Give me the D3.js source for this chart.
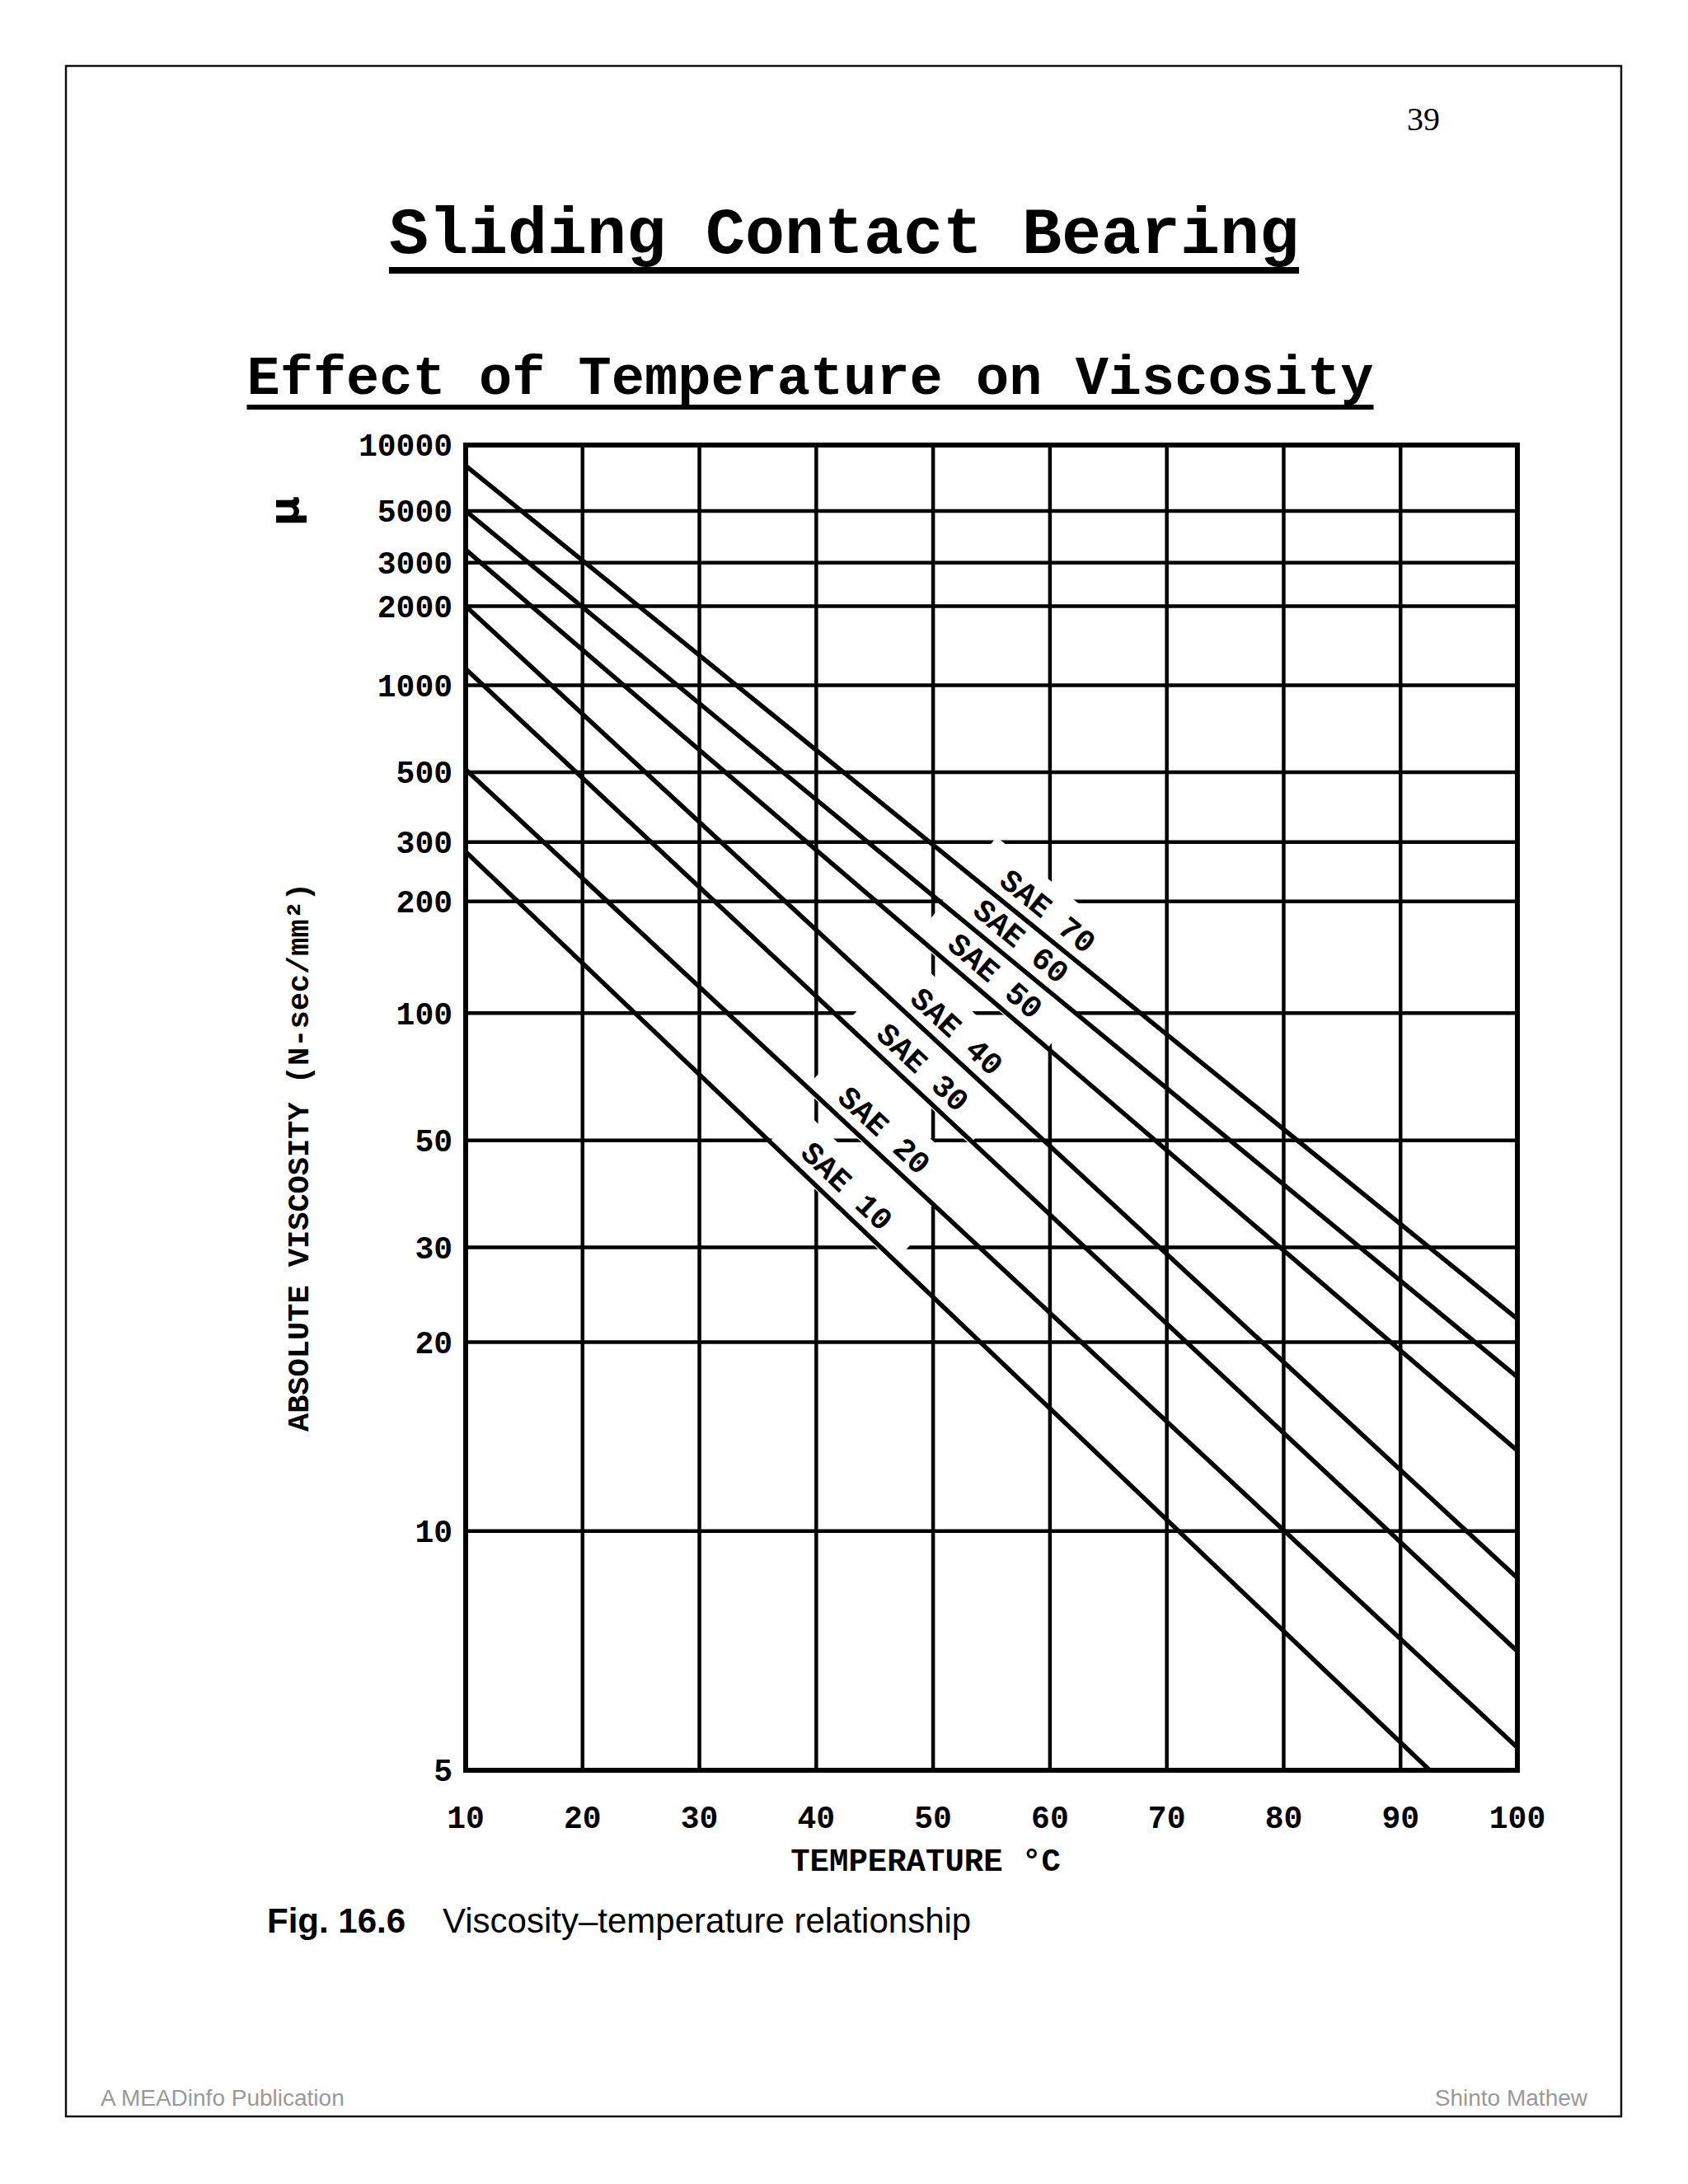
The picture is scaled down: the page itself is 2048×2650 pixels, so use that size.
<!DOCTYPE html>
<html><head><meta charset="utf-8">
<script src="https://cdn.jsdelivr.net/npm/d3@7"></script>
<style>body{margin:0;background:#fff} svg{display:block}</style>
</head><body>
<script>
// ---------------- data ----------------
const temperatureTicks = [10, 20, 30, 40, 50, 60, 70, 80, 90, 100];
const viscosityTicks = [10000, 5000, 3000, 2000, 1000, 500, 300, 200, 100, 50, 30, 20, 10, 5];
const grades    = ["SAE 70", "SAE 60", "SAE 50", "SAE 40", "SAE 30", "SAE 20", "SAE 10"];
const startTemp = [10, 10, 10, 10, 10, 10, 10];
const startVisc = [8000, 5000, 3400, 2000, 1150, 510, 280];
const endTemp   = [100, 100, 100, 100, 100, 100, 92.5];
const endVisc   = [22, 17.4, 13.2, 8.6, 6.9, 5.3, 5];
const labelTemp = [59.9, 57.6, 55.4, 52.1, 49.2, 45.9, 42.7];

// ---------------- page ----------------
const W = 2048, H = 2650;
const svg = d3.select("body").append("svg").attr("width", W).attr("height", H);
svg.append("rect").attr("width", W).attr("height", H).attr("fill", "#fff");
svg.append("rect").attr("x", 80).attr("y", 80).attr("width", 1887).attr("height", 2488)
  .attr("fill", "none").attr("stroke", "#111").attr("stroke-width", 2.5);

svg.append("text").attr("x", 1727).attr("y", 158).attr("text-anchor", "middle")
  .attr("font-family", "Liberation Serif").attr("font-size", 40).text("39");

function underlined(txt, cx, baseline, size, uy, uh) {
  const t = svg.append("text").attr("x", cx).attr("y", baseline).attr("text-anchor", "middle")
    .attr("font-family", "Liberation Mono").attr("font-weight", "bold").attr("font-size", size).text(txt);
  const bb = t.node().getBBox();
  svg.append("rect").attr("x", bb.x).attr("y", uy).attr("width", bb.width).attr("height", uh).attr("fill", "#000");
}
underlined("Sliding Contact Bearing", 1024, 307, 80, 324, 8);
underlined("Effect of Temperature on Viscosity", 983, 478, 67, 491, 6);

// ---------------- scales ----------------
const x = d3.scaleLinear().domain([10, 100]).range([565, 1841]);
const yT = v => Math.log(Math.log10(v) + 0.3);           // chart's viscosity scale
const yLin = d3.scaleLinear().domain([yT(5), yT(10000)]).range([2148, 540]);
const y = v => yLin(yT(v));

const g = svg.append("g");
const yTop = y(d3.max(viscosityTicks)), yBot = y(d3.min(viscosityTicks));
const xL = x(d3.min(temperatureTicks)), xR = x(d3.max(temperatureTicks));

// grid
g.selectAll(".vg").data(temperatureTicks).join("line")
  .attr("x1", d => x(d)).attr("x2", d => x(d)).attr("y1", yTop).attr("y2", yBot)
  .attr("stroke", "#000").attr("stroke-width", 4.5);
g.selectAll(".hg").data(viscosityTicks).join("line")
  .attr("x1", xL).attr("x2", xR).attr("y1", d => y(d)).attr("y2", d => y(d))
  .attr("stroke", "#000").attr("stroke-width", 4.5);

// line geometry
const OFF = 27; // label centre distance from its line
const lines = grades.map((name, i) => {
  const p0 = [x(startTemp[i]), y(startVisc[i])];
  const p1 = [x(endTemp[i]), y(endVisc[i])];
  const a = Math.atan2(p1[1] - p0[1], p1[0] - p0[0]);
  const ax = x(labelTemp[i]) - OFF * Math.sin(a);
  const u = (ax - p0[0]) / (p1[0] - p0[0]);
  const lp = [p0[0] + u * (p1[0] - p0[0]), p0[1] + u * (p1[1] - p0[1])];
  return {name, p0, p1, lp, ang: a * 180 / Math.PI};
});

// white clearing behind labels
g.selectAll(".clr").data(lines).join("rect")
  .attr("transform", d => `translate(${d.lp[0]},${d.lp[1]}) rotate(${d.ang})`)
  .attr("x", -105).attr("y", -56).attr("width", 210).attr("height", 60).attr("fill", "#fff");

g.append("rect").attr("x", xL).attr("y", yTop).attr("width", xR - xL).attr("height", yBot - yTop)
  .attr("fill", "none").attr("stroke", "#000").attr("stroke-width", 6);

// SAE lines
g.selectAll(".sae").data(lines).join("line")
  .attr("x1", d => d.p0[0]).attr("y1", d => d.p0[1]).attr("x2", d => d.p1[0]).attr("y2", d => d.p1[1])
  .attr("stroke", "#000").attr("stroke-width", 5.5);

// labels
g.selectAll(".lab").data(lines).join("text")
  .attr("transform", d => `translate(${d.lp[0]},${d.lp[1]}) rotate(${d.ang})`)
  .attr("x", 0).attr("y", -13).attr("text-anchor", "middle")
  .attr("font-family", "Liberation Mono").attr("font-weight", "bold").attr("font-size", 38)
  .text(d => d.name);

// tick labels
g.selectAll(".xt").data(temperatureTicks).join("text")
  .attr("x", d => x(d)).attr("y", 2218).attr("text-anchor", "middle")
  .attr("font-family", "Liberation Mono").attr("font-weight", "bold").attr("font-size", 38)
  .text(d => d);
g.selectAll(".yt").data(viscosityTicks).join("text")
  .attr("x", xL - 16).attr("y", d => y(d)).attr("dy", "0.35em").attr("text-anchor", "end")
  .attr("font-family", "Liberation Mono").attr("font-weight", "bold").attr("font-size", 38)
  .text(d => d);

// axis titles
svg.append("text").attr("x", 1123).attr("y", 2270).attr("text-anchor", "middle")
  .attr("font-family", "Liberation Mono").attr("font-weight", "bold").attr("font-size", 39)
  .text("TEMPERATURE °C");
svg.append("text").attr("transform", "translate(374,1404) rotate(-90)").attr("text-anchor", "middle")
  .attr("font-family", "Liberation Mono").attr("font-weight", "bold").attr("font-size", 37)
  .text("ABSOLUTE VISCOSITY (N-sec/mm²)");
svg.append("text").attr("transform", "translate(362,620) rotate(-90)").attr("text-anchor", "middle")
  .attr("font-family", "DejaVu Sans").attr("font-weight", "bold").attr("font-size", 50)
  .text("μ");

// caption
svg.append("text").attr("x", 324).attr("y", 2345)
  .attr("font-family", "Liberation Sans").attr("font-weight", "bold").attr("font-size", 42)
  .text("Fig. 16.6");
svg.append("text").attr("x", 537).attr("y", 2345)
  .attr("font-family", "Liberation Sans").attr("font-size", 42)
  .text("Viscosity–temperature relationship");

// footer
svg.append("text").attr("x", 122).attr("y", 2555)
  .attr("font-family", "Liberation Sans").attr("font-size", 28).attr("fill", "#999")
  .text("A MEADinfo Publication");
svg.append("text").attr("x", 1926).attr("y", 2555).attr("text-anchor", "end")
  .attr("font-family", "Liberation Sans").attr("font-size", 28).attr("fill", "#999")
  .text("Shinto Mathew");
</script>
</body></html>
